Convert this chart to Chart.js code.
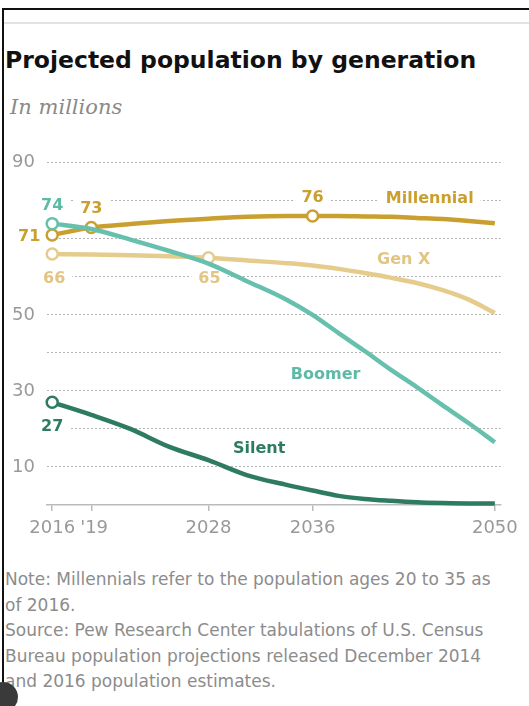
<!DOCTYPE html>
<html>
<head>
<meta charset="utf-8">
<script src="https://cdn.jsdelivr.net/npm/chart.js@4/dist/chart.umd.min.js"></script>
<style>
  html, body { margin: 0; padding: 0; background: #fff; }
  body { width: 529px; height: 706px; position: relative; overflow: hidden; }
  .frame-top { position: absolute; left: 2px; top: 8px; width: 527px; height: 2px; background: #111; }
  .frame-left { position: absolute; left: 2px; top: 8px; width: 2px; height: 698px; background: #111; }
  .rule { position: absolute; left: 4px; top: 22px; width: 525px; height: 2px; background: #e2e2e2; }
  .title { position: absolute; left: 5px; top: 48px; font: bold 23.5px/24px "DejaVu Sans", sans-serif; color: #111; white-space: nowrap; }
  .subtitle { position: absolute; left: 10px; top: 97px; font: italic 21px/21px "DejaVu Serif", serif; color: #8a8a8a; white-space: nowrap; }
  #chart { position: absolute; left: 4px; top: 140px; }
  .note { position: absolute; left: 5px; top: 567px; font: 17px/25.5px "DejaVu Sans", sans-serif; color: #8c8c8c; white-space: nowrap; }
  .dot { position: absolute; left: -12px; top: 682px; width: 30px; height: 30px; border-radius: 50%; background: #3a3a3a; }
</style>
</head>
<body>
<div class="frame-top"></div>
<div class="frame-left"></div>
<div class="rule"></div>
<div class="title">Projected population by generation</div>
<div class="subtitle">In millions</div>
<canvas id="chart" width="521" height="405"></canvas>
<div class="note">Note: Millennials refer to the population ages 20 to 35 as<br>of 2016.<br>Source: Pew Research Center tabulations of U.S. Census<br>Bureau population projections released December 2014<br>and 2016 population estimates.</div>
<div class="dot"></div>

<script>
// --- data (millions) ---
const years = [2016, 2019, 2022, 2025, 2028, 2031, 2034, 2036, 2038, 2040, 2042, 2044, 2046, 2048, 2050];
const millennial = [71, 73, 73.9, 74.7, 75.3, 75.8, 76, 76, 76, 75.9, 75.8, 75.5, 75.2, 74.7, 74.1];
const genX       = [66, 65.9, 65.7, 65.4, 65, 64.3, 63.6, 63, 62.1, 61, 59.8, 58.4, 56.5, 54, 50.5];
const boomer     = [74, 72.6, 69.8, 66.8, 63.5, 58.8, 54, 50, 45.2, 40.5, 35.6, 31, 26.2, 21.5, 16.5];
const silent     = [27, 23.7, 20, 15.3, 11.8, 7.8, 5.3, 3.8, 2.4, 1.6, 1.1, 0.7, 0.5, 0.4, 0.4];

const seriesNames = ['Millennial', 'Gen X', 'Boomer', 'Silent'];
const seriesColors = ['#c9a02f', '#e6cc8c', '#66c0ad', '#2e7b63'];
const labelColors = ['#c9a02f', '#e2c583', '#5cbaa6', '#2e7b63'];

// where each series has an open marker
const markerYears = [[2016, 2019, 2036], [2016, 2028], [2016], [2016]];

// series name labels, placed in data units
const nameX = [2045.0, 2043.0, 2037.0, 2031.9];
const nameY = [80.6, 64.4, 34.3, 14.9];

// value callouts: [series, year, dx, dy] (pixel nudge from the marker)
const callouts = [
  [2, 2016, 0, -18],
  [0, 2019, 0, -19],
  [0, 2016, -23, 2],
  [0, 2036, 0, -18],
  [1, 2016, 2, 25],
  [1, 2028, 1, 21],
  [3, 2016, 0, 25]
];

const tickYears = [2016, 2019, 2028, 2036, 2050];
const tickLabels = ['2016', " '19", '2028', '2036', '2050'];
const yLabels = [90, 50, 30, 10];

const allSeries = [millennial, genX, boomer, silent];

const datasets = allSeries.map((vals, i) => ({
  label: seriesNames[i],
  data: years.map((y, j) => ({ x: y, y: vals[j] })),
  borderColor: seriesColors[i],
  borderWidth: 4.5,
  cubicInterpolationMode: 'monotone',
  pointRadius: ctx => markerYears[i].includes(ctx.raw && ctx.raw.x) ? 5.5 : 0,
  pointBorderWidth: 2.5,
  pointBackgroundColor: '#fff',
  pointBorderColor: seriesColors[i],
  clip: false
})).reverse(); // millennial drawn last, on top

const labelPlugin = {
  id: 'labels',
  beforeDatasetsDraw(chart) {
    const ctx = chart.ctx;
    const xs = chart.scales.x, ys = chart.scales.y;
    ctx.save();
    ctx.font = 'bold 16px "DejaVu Sans", sans-serif';
    ctx.textAlign = 'center';
    ctx.textBaseline = 'middle';

    const put = (text, px, py, color) => {
      const w = ctx.measureText(text).width;
      ctx.fillStyle = '#fff';
      ctx.fillRect(px - w / 2 - 7, py - 9, w + 14, 18);
      ctx.fillStyle = color;
      ctx.fillText(text, px, py);
    };

    seriesNames.forEach((name, i) => {
      put(name, xs.getPixelForValue(nameX[i]), ys.getPixelForValue(nameY[i]), labelColors[i]);
    });

    callouts.forEach(([s, yr, dx, dy]) => {
      const v = allSeries[s][years.indexOf(yr)];
      put(String(Math.round(v)), xs.getPixelForValue(yr) + dx, ys.getPixelForValue(v) + dy, labelColors[s]);
    });
    ctx.restore();
  }
};

new Chart(document.getElementById('chart'), {
  type: 'line',
  data: { datasets },
  options: {
    responsive: false,
    devicePixelRatio: 1,
    animation: false,
    layout: { padding: { top: 20, right: 20, left: 0, bottom: 0 } },
    plugins: { legend: { display: false }, tooltip: { enabled: false } },
    scales: {
      x: {
        type: 'linear',
        min: 2015.6,
        max: 2050.45,
        afterBuildTicks: scale => { scale.ticks = tickYears.map(v => ({ value: v })); },
        afterFit: scale => { scale.height = 40; },
        ticks: {
          autoSkip: false,
          maxRotation: 0,
          padding: 7,
          color: '#999',
          font: { family: 'DejaVu Sans', size: 18 },
          callback: v => tickLabels[tickYears.indexOf(v)]
        },
        grid: { drawOnChartArea: false, tickLength: 6, color: '#bbb', lineWidth: 1.5 },
        border: { display: true, color: '#bbb', width: 1.5 }
      },
      y: {
        min: 0,
        max: 90,
        afterFit: scale => { scale.width = 43; },
        ticks: {
          stepSize: 10,
          padding: 12,
          color: '#999',
          font: { family: 'DejaVu Sans', size: 18 },
          callback: v => yLabels.includes(v) ? String(v) : ''
        },
        grid: {
          drawTicks: false,
          color: ctx => ctx.tick && ctx.tick.value === 0 ? 'rgba(0,0,0,0)' : '#b3b3b3',
          lineWidth: 1
        },
        border: { display: false, dash: [2, 2] }
      }
    }
  },
  plugins: [labelPlugin]
});
</script>
</body>
</html>
